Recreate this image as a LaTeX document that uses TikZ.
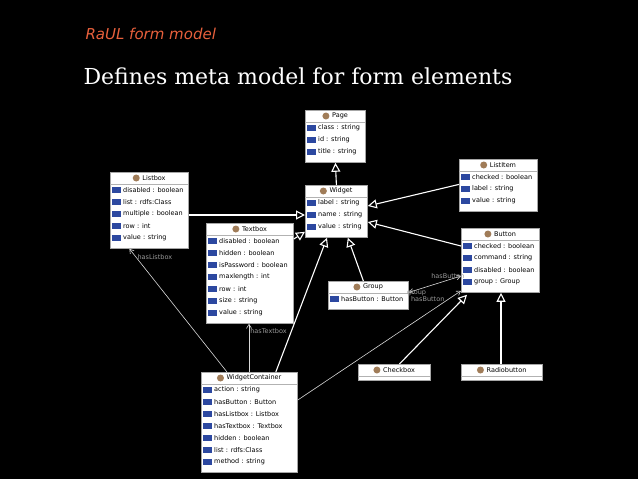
\documentclass[tikz,border=0pt]{standalone}
\usepackage{fontspec}
\setmainfont{DejaVu Serif}
\newfontfamily\uifont{DejaVu Sans}
\usetikzlibrary{arrows.meta}
\definecolor{ttl}{HTML}{E8603C}
\definecolor{icb}{HTML}{2C48A0}
\definecolor{icc}{HTML}{A07C58}
\tikzset{
 cbox/.style={draw=gray!70,fill=white,line width=0.8pt,anchor=north west,inner sep=0pt},
 rowtxt/.style={anchor=west,font=\uifont\fontsize{6.5}{7}\selectfont,inner sep=0pt,text=black},
 gen/.style={draw=white,line width=1.1pt,-{Triangle[open,fill=black,length=9pt,width=9pt]}},
 assoc/.style={draw=white!85!black,line width=0.6pt,-{Straight Barb[length=4pt,width=5pt]}},
 alab/.style={font=\uifont\fontsize{6.5}{7}\selectfont,text=gray!80,inner sep=1pt}
}
\newcommand{\umlclass}[6]{% name, x, y, w, title, rows
 \node[cbox,minimum width=#4pt,minimum height=#6*12pt+16pt] (#1) at (#2,#3) {};
 \draw[gray!60,line width=0.5pt] (#2,#3+12) -- ++(#4,0);
 \node[rowtxt,anchor=center] (#1-t) at (#2+#4/2+5,#3+6) {#5};
 \fill[icc] ($(#1-t.west)+(-6,0)$) circle (3.5);
}
\usetikzlibrary{calc}
\newcommand{\umlrow}[5]{% name idx x y text
 \fill[icb] (#3+2,#4+18+#2*12-3) rectangle ++(9,6);
 \node[rowtxt] (#1-r#2) at (#3+13,#4+18+#2*12) {#5};
}
\begin{document}
\begin{tikzpicture}[x=1pt,y=-1pt]
\fill[black] (0,0) rectangle (638,479);
\useasboundingbox (0,0) rectangle (638,479);
\node[anchor=west,text=ttl,font=\uifont\itshape\fontsize{15}{18}\selectfont] (title) at (82,34) {RaUL form model};
\node[anchor=west,text=white,font=\fontsize{22}{26}\selectfont] (sub) at (80,76) {Defines meta model for form elements};

\umlclass{page}{305}{110}{60}{Page}{3}
\umlrow{page}{0}{305}{110}{class : string}
\umlrow{page}{1}{305}{110}{id : string}
\umlrow{page}{2}{305}{110}{title : string}

\umlclass{widget}{305}{185}{62}{Widget}{3}
\umlrow{widget}{0}{305}{185}{label : string}
\umlrow{widget}{1}{305}{185}{name : string}
\umlrow{widget}{2}{305}{185}{value : string}

\umlclass{listbox}{110}{172}{78}{Listbox}{5}
\umlrow{listbox}{0}{110}{172}{disabled : boolean}
\umlrow{listbox}{1}{110}{172}{list : rdfs:Class}
\umlrow{listbox}{2}{110}{172}{multiple : boolean}
\umlrow{listbox}{3}{110}{172}{row : int}
\umlrow{listbox}{4}{110}{172}{value : string}

\umlclass{textbox}{206}{223}{87}{Textbox}{7}
\umlrow{textbox}{0}{206}{223}{disabled : boolean}
\umlrow{textbox}{1}{206}{223}{hidden : boolean}
\umlrow{textbox}{2}{206}{223}{isPassword : boolean}
\umlrow{textbox}{3}{206}{223}{maxlength : int}
\umlrow{textbox}{4}{206}{223}{row : int}
\umlrow{textbox}{5}{206}{223}{size : string}
\umlrow{textbox}{6}{206}{223}{value : string}

\umlclass{listitem}{459}{159}{78}{ListItem}{3}
\umlrow{listitem}{0}{459}{159}{checked : boolean}
\umlrow{listitem}{1}{459}{159}{label : string}
\umlrow{listitem}{2}{459}{159}{value : string}

\umlclass{button}{461}{228}{78}{Button}{4}
\umlrow{button}{0}{461}{228}{checked : boolean}
\umlrow{button}{1}{461}{228}{command : string}
\umlrow{button}{2}{461}{228}{disabled : boolean}
\umlrow{button}{3}{461}{228}{group : Group}

\umlclass{group}{328}{281}{80}{Group}{1}
\umlrow{group}{0}{328}{281}{hasButton : Button}

\umlclass{checkbox}{358}{364}{72}{Checkbox}{0}
\umlclass{radio}{461}{364}{81}{Radiobutton}{0}

\umlclass{wc}{201}{372}{96}{WidgetContainer}{7}
\umlrow{wc}{0}{201}{372}{action : string}
\umlrow{wc}{1}{201}{372}{hasButton : Button}
\umlrow{wc}{2}{201}{372}{hasListbox : Listbox}
\umlrow{wc}{3}{201}{372}{hasTextbox : Textbox}
\umlrow{wc}{4}{201}{372}{hidden : boolean}
\umlrow{wc}{5}{201}{372}{list : rdfs:Class}
\umlrow{wc}{6}{201}{372}{method : string}

% generalisations
\draw[gen] (widget.north) -- (page.south);
\draw[gen] (listbox.east |- widget-r1) -- (widget-r1.west -| widget.west);
\draw[gen] ($(textbox.north east)+(0,16)$) -- ($(widget.south west)+(0,-6)$);
\draw[gen] ($(wc.north east)+(-22,0)$) -- ($(widget.south west)+(22,0)$);
\draw[gen] ($(group.north)+(-5,0)$) -- ($(widget.south east)+(-20,0)$);
\draw[gen] ($(listitem.west)+(0,-1)$) -- ($(widget.north east)+(0,21)$);
\draw[gen] ($(button.north west)+(0,18)$) -- ($(widget.north east)+(0,37)$);
\draw[gen] ($(checkbox.north)+(5,0)$) -- ($(button.south west)+(6,2)$);
\draw[gen] (radio.north -| 501,0) -- (button.south -| 501,0);

% associations
\draw[assoc] ($(wc.north west)+(26,0)$) -- node[alab,pos=0.93,right] {hasListbox} ($(listbox.south)+(-20,0)$);
\draw[assoc] (wc.north -| 249,0) -- node[alab,pos=0.85,right] {hasTextbox} (textbox.south -| 249,0);
\draw[assoc] ($(wc.north east)+(0,28)$) -- node[alab,pos=0.9,above left,inner sep=0pt] {hasButton} ($(button.south west)+(0,-2)$);
\coordinate (gb) at ($(button.north west)+(0,48)$);
\draw[assoc,{Straight Barb[length=4pt,width=5pt]}-{Straight Barb[length=4pt,width=5pt]}] ($(group.east)+(0,-3)$) -- node[alab,pos=0.75,above] {hasButton} node[alab,pos=0.15,below] {group} (gb);
\end{tikzpicture}
\end{document}
